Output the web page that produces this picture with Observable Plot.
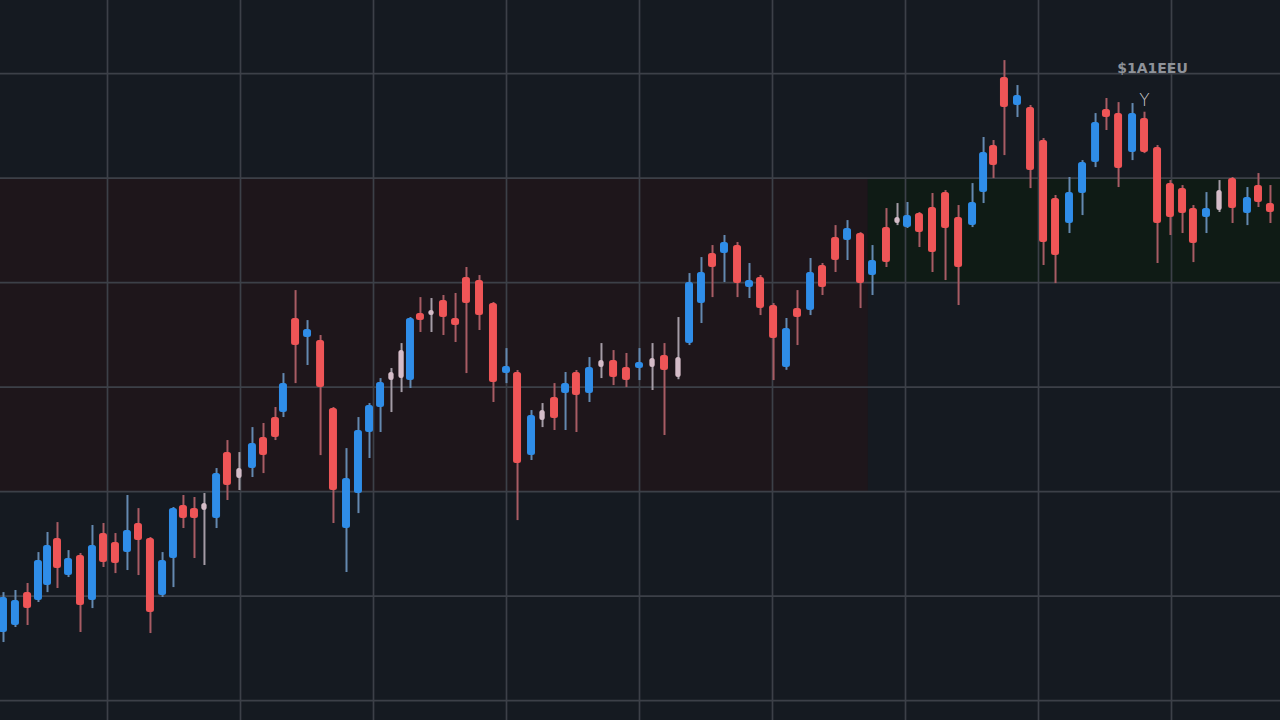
<!DOCTYPE html>
<html><head><meta charset="utf-8">
<script src="https://cdn.jsdelivr.net/npm/d3@7"></script>
<script src="https://cdn.jsdelivr.net/npm/@observablehq/plot@0.6"></script>
<style>html,body{margin:0;padding:0;background:#151a21;overflow:hidden}svg{display:block}</style>
</head><body><div id="chart"></div>
<script>
// time (sessions) of each candle
const t = [2.18,3.08,3.99,4.81,5.49,6.24,7.07,7.97,8.87,9.70,10.60,11.50,12.33,13.23,14.14,14.96,15.71,16.54,17.29,18.20,19.02,19.92,20.90,21.73,22.63,23.23,24.14,25.04,26.02,26.99,27.97,28.87,29.70,30.53,31.35,32.11,32.78,33.53,34.36,35.26,36.17,36.99,37.97,39.02,40.00,40.83,41.88,42.71,43.61,44.44,45.26,46.24,47.14,48.05,49.02,50.00,50.98,51.88,52.93,53.76,54.66,55.49,56.39,57.37,58.27,59.10,60.08,61.05,61.88,62.86,63.76,64.74,65.64,66.62,67.52,68.57,69.40,70.15,71.05,72.03,73.01,73.99,75.04,75.87,76.62,77.44,78.42,79.40,80.38,81.28,82.33,83.31,84.29,85.11,86.02,87.07,87.97,88.95,89.92,90.83,91.65,92.63,93.61,94.59,95.71,96.54,97.44];
const open = [6.51,7.18,10.33,9.57,11.00,15.50,11.96,13.88,9.57,15.98,15.12,14.16,16.94,15.50,10.05,13.59,18.66,18.37,18.18,17.42,23.73,21.24,22.20,25.17,27.08,27.56,36.56,34.74,34.45,27.94,16.46,19.81,25.65,28.04,30.62,30.81,30.62,37.03,36.84,38.28,36.56,40.48,40.19,37.99,31.29,31.39,23.44,26.79,29.00,29.38,31.39,29.38,31.87,32.54,31.87,31.77,31.87,33.01,30.91,34.16,37.99,42.78,42.78,43.54,39.52,40.48,37.80,31.87,37.51,37.32,41.63,44.31,44.02,44.69,40.67,45.26,45.65,45.26,46.60,47.18,48.61,46.22,45.45,48.61,53.11,59.62,56.94,56.75,53.59,48.04,45.65,48.52,51.48,56.56,56.17,52.44,55.69,52.92,49.47,49.00,47.08,46.22,46.89,49.95,46.60,49.28,47.56];
const high = [10.33,10.53,11.20,14.16,16.08,17.03,14.35,14.07,16.75,16.94,15.98,19.62,18.37,15.60,14.16,18.47,19.62,19.43,19.81,22.20,24.88,23.73,26.12,26.51,28.04,31.29,39.23,36.36,34.93,28.04,24.11,27.08,28.42,30.81,31.77,34.16,36.65,38.56,38.47,38.76,38.95,41.44,40.67,38.09,33.68,31.58,27.75,28.42,30.33,31.39,31.58,32.82,34.16,33.49,33.21,33.68,34.16,34.16,36.65,40.86,42.39,43.54,44.50,43.83,41.82,40.67,37.99,36.56,39.23,42.30,41.82,45.45,45.93,44.78,43.54,47.08,47.56,47.66,46.70,48.52,48.80,47.37,49.47,53.88,53.59,61.24,58.85,56.94,53.78,48.33,50.05,51.67,56.17,57.61,57.22,57.13,56.30,53.11,49.76,49.28,47.37,48.61,49.76,50.05,49.09,50.43,49.28];
const low = [5.55,6.99,7.18,9.38,10.33,10.72,11.77,6.51,8.80,12.73,12.15,12.44,11.96,6.41,9.86,10.81,16.46,13.59,12.92,16.46,19.14,20.10,21.34,21.72,24.88,27.08,30.33,32.06,23.44,16.94,12.25,17.89,23.16,25.65,27.56,29.47,29.86,35.22,35.22,34.93,34.26,31.29,35.41,28.52,30.33,17.22,22.97,26.12,25.84,25.84,25.65,28.52,30.81,30.14,29.95,30.62,29.67,25.36,30.70,33.97,36.08,38.56,40.00,38.56,38.47,36.84,30.62,31.60,33.97,36.84,38.76,40.96,42.11,37.51,38.76,41.44,45.45,45.17,43.35,40.96,40.19,37.80,45.26,47.56,49.95,52.15,55.79,48.99,41.63,39.90,44.69,46.41,51.00,54.55,49.09,51.67,52.34,41.82,44.50,44.69,41.91,44.69,46.70,45.65,45.45,47.18,45.65];
const close = [9.86,9.57,8.80,13.40,14.83,12.63,13.59,9.09,14.83,13.21,13.11,16.27,15.31,8.42,13.40,18.37,17.42,17.42,18.85,21.72,20.57,22.20,24.59,23.44,25.17,30.33,33.97,35.50,29.95,20.10,21.24,25.84,28.23,30.43,31.39,33.49,36.56,36.36,37.32,36.65,35.89,37.99,36.84,30.43,31.96,22.68,27.27,27.75,26.99,30.33,29.19,31.87,32.54,30.91,30.62,32.34,32.73,31.58,32.82,40.00,40.96,41.44,43.83,39.90,40.19,37.51,34.64,35.60,36.65,40.96,39.52,42.11,45.17,39.90,42.11,41.91,46.22,46.41,44.78,42.87,45.17,41.44,47.66,52.44,51.20,56.75,57.89,50.72,43.83,42.58,48.61,51.48,55.31,55.79,50.91,56.17,52.44,45.65,46.22,46.60,43.73,47.08,48.80,47.08,48.13,47.66,46.70];
// candle tone: B = blue, R = red, W = pale doji
const tone = ("BBRBBRBRBR" + "RBRRBBRRWB" + "RWBRRBRBRR" + "BBBBWWBRWR" + "RRRRBRBWRB" +
              "RBWRRBWRWB" + "BRBRBRRBRB" + "RRBRBRWBRR" + "RRBBRRBRRR" + "BBBRRBRRRR" + "RBWRBRR").split("");

// shaded zones (time span, price band)
const zoneKind = ["red", "green"];
const zoneT1 = [1.955, 67.2];
const zoneT2 = [67.2, 98.2];
const zoneLow = [20, 40];
const zoneHigh = [50, 50];

// grid ticks
const gridT = [10, 20, 30, 40, 50, 60, 70, 80, 90];
const gridP = [0, 10, 20, 30, 40, 50, 60];

// annotations
const labelText = ["$1A1EEU", "Y"];
const labelT = [88.57, 87.97];
const labelP = [60.48, 57.42];

const candles = t.map((ti, i) => ({t: ti, open: open[i], high: high[i], low: low[i], close: close[i], tone: tone[i]}));
const zones = zoneKind.map((k, i) => ({kind: k, t1: zoneT1[i], t2: zoneT2[i], p1: zoneLow[i], p2: zoneHigh[i]}));
const labels = labelText.map((s, i) => ({text: s, t: labelT[i], p: labelP[i]}));

const bodyFill = {B: "#2f8de8", R: "#ef5557", W: "#d4bcc8"};
const wickStroke = {B: "#6489b0", R: "#a85c64", W: "#a49ca6"};
const halfWidth = {B: 0.3, R: 0.3, W: 0.2};
const zoneFill = {red: "#1e161b", green: "#0f1b15"};

const chart = Plot.plot({
  width: 1280, height: 720,
  marginTop: 0, marginRight: 0, marginBottom: 0, marginLeft: 0,
  x: {domain: [1.955, 98.195], axis: null},
  y: {domain: [-1.91, 66.99], axis: null},
  style: {background: "#151a21"},
  marks: [
    Plot.rect(zones, {x1: "t1", x2: "t2", y1: "p1", y2: "p2", fill: d => zoneFill[d.kind]}),
    Plot.ruleX(gridT, {stroke: "#3c4048", strokeWidth: 1.7}),
    Plot.ruleY(gridP, {stroke: "#3c4048", strokeWidth: 1.7}),
    Plot.ruleX(candles, {x: "t", y1: "low", y2: "high", stroke: d => wickStroke[d.tone], strokeWidth: 2}),
    Plot.rect(candles, {x1: d => d.t - halfWidth[d.tone], x2: d => d.t + halfWidth[d.tone], y1: "open", y2: "close", fill: d => bodyFill[d.tone], rx: 2.5}),
    Plot.text(labels.slice(0, 1), {x: "t", y: "p", text: "text", fill: "#8e9299", fontSize: 14, fontWeight: 700, fontFamily: "DejaVu Sans", letterSpacing: 1.5}),
    Plot.text(labels.slice(1), {x: "t", y: "p", text: "text", fill: "#c8c8cc", fontSize: 17, fontWeight: 300, fontFamily: "DejaVu Sans"})
  ]
});
document.getElementById("chart").appendChild(chart);
</script>
</body></html>
